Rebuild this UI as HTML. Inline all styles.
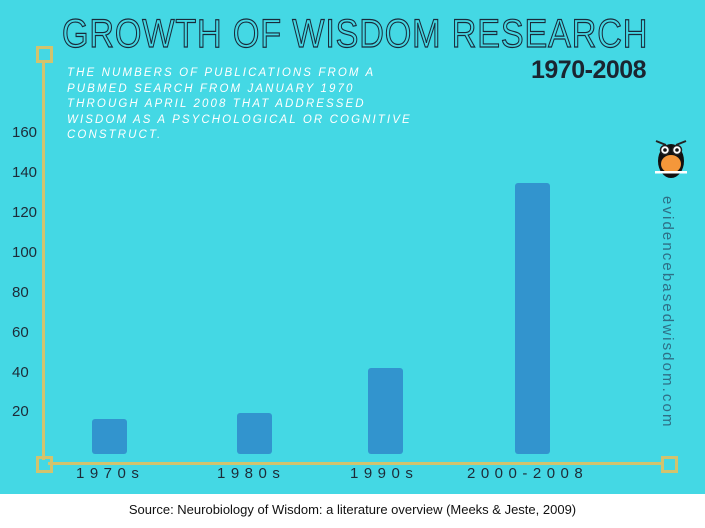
<!DOCTYPE html>
<html><head><style>
body{margin:0}
.c{position:relative;width:705px;height:528px;background:#fff;overflow:hidden;font-family:"Liberation Sans",sans-serif}
.bg{position:absolute;left:0;top:0;width:705px;height:494px;background:#44d8e4}
.t{position:absolute;left:62px;top:12px;white-space:nowrap;font-size:40px;letter-spacing:1px;color:#44d8e4;-webkit-text-stroke:1.2px #1a2a3a;font-family:"Liberation Sans",sans-serif;transform-origin:0 0;transform:scaleX(0.853)}
.y{position:absolute;left:531px;top:56px;font-size:25px;font-weight:bold;color:#1a2530;letter-spacing:-0.5px}
.d{position:absolute;left:67px;top:66px;font-size:11.5px;font-style:italic;color:#fff;letter-spacing:2.1px;line-height:15.5px}
.tk{position:absolute;left:12px;font-size:15px;color:#1d2b38}
.bar{position:absolute;width:35px;background:#3294ce;border-radius:3px}
.xl{position:absolute;top:465px;font-size:15px;color:#1d2b38;letter-spacing:5.5px}
.sq{position:absolute;width:11px;height:11px;border:3px solid #d2c36e}
.src{position:absolute;left:0;width:705px;top:502px;text-align:center;font-size:13px;color:#111}
.v{position:absolute;left:676px;top:196px;transform-origin:0 0;transform:rotate(90deg);font-size:15px;color:#2e6f86;letter-spacing:2.1px;white-space:nowrap}
</style></head><body><div class="c">
<div class="bg"></div>
<div class="t">GROWTH OF WISDOM RESEARCH</div>
<div class="y">1970-2008</div>
<div class="d">THE NUMBERS OF PUBLICATIONS FROM A<br>PUBMED SEARCH FROM JANUARY 1970<br>THROUGH APRIL 2008 THAT ADDRESSED<br>WISDOM AS A PSYCHOLOGICAL OR COGNITIVE<br>CONSTRUCT.</div>
<div style="position:absolute;left:42px;top:60px;width:3px;height:400px;background:#d2c36e"></div>
<div style="position:absolute;left:48px;top:462px;width:616px;height:3px;background:#d2c36e"></div>
<div class="sq" style="left:36px;top:46px"></div>
<div class="sq" style="left:36px;top:456px"></div>
<div class="sq" style="left:661px;top:456px"></div>
<div class="tk" style="top:124px">160</div>
<div class="tk" style="top:164px">140</div>
<div class="tk" style="top:204px">120</div>
<div class="tk" style="top:244px">100</div>
<div class="tk" style="top:284px">80</div>
<div class="tk" style="top:324px">60</div>
<div class="tk" style="top:364px">40</div>
<div class="tk" style="top:403px">20</div>
<div class="bar" style="left:92px;top:419px;height:35px"></div>
<div class="bar" style="left:237px;top:413px;height:41px"></div>
<div class="bar" style="left:368px;top:368px;height:86px"></div>
<div class="bar" style="left:515px;top:183px;height:271px"></div>
<div class="xl" style="left:76px">1970s</div>
<div class="xl" style="left:217px">1980s</div>
<div class="xl" style="left:350px">1990s</div>
<div class="xl" style="left:467px">2000-2008</div>
<svg style="position:absolute;left:652px;top:137px" width="38" height="46" viewBox="0 0 38 46">
<path d="M4 4 L14 8 M34 4 L24 8" stroke="#222" stroke-width="2"/>
<ellipse cx="19" cy="24" rx="13" ry="17" fill="#111"/>
<circle cx="13" cy="13" r="4.5" fill="#fff" stroke="#222" stroke-width="1.5"/><circle cx="25" cy="13" r="4.5" fill="#fff" stroke="#222" stroke-width="1.5"/>
<circle cx="13" cy="13" r="1.8" fill="#111"/><circle cx="25" cy="13" r="1.8" fill="#111"/>
<ellipse cx="19" cy="27" rx="10" ry="9" fill="#f4973a"/>
<rect x="3" y="34" width="32" height="2.5" fill="#fff"/>
</svg>
<div class="v">evidencebasedwisdom.com</div>
<div class="src">Source: Neurobiology of Wisdom: a literature overview (Meeks &amp; Jeste, 2009)</div>
</div></body></html>
